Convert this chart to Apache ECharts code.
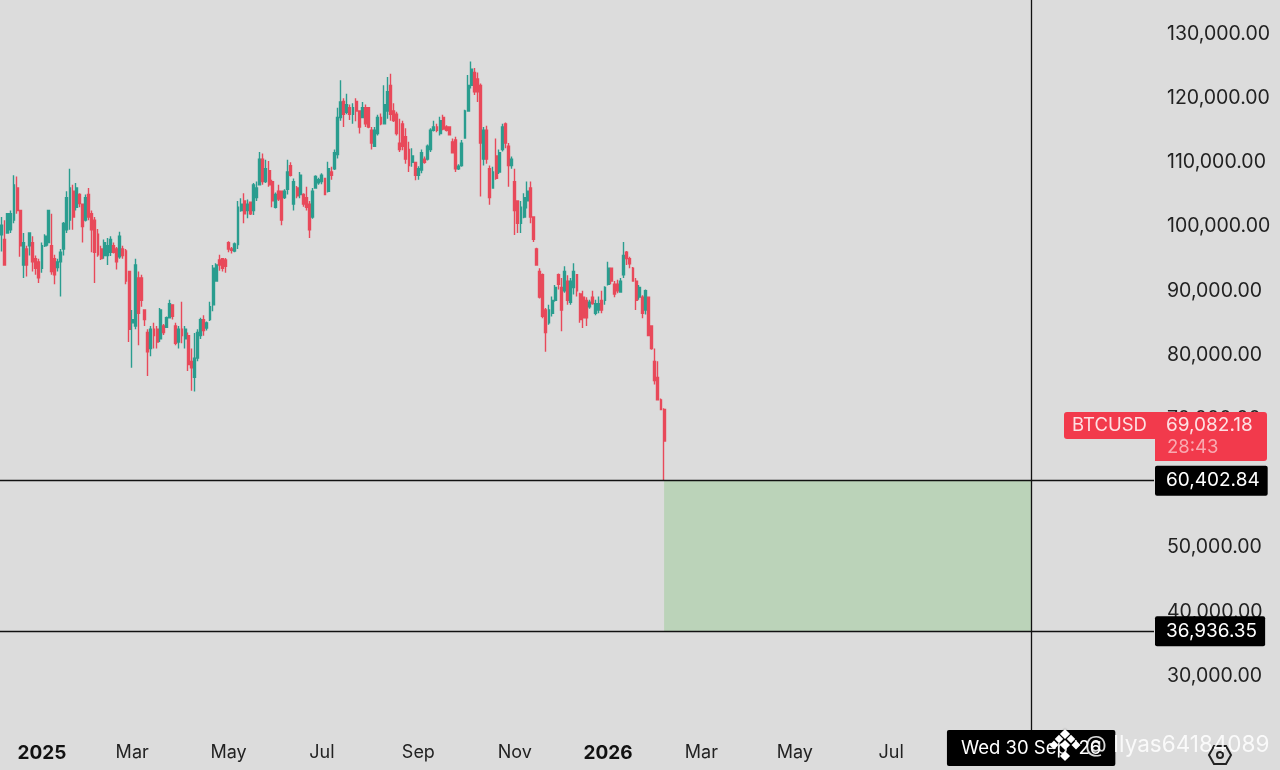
<!DOCTYPE html>
<html>
<head>
<meta charset="utf-8">
<style>html,body{margin:0;padding:0;background:#dcdcdc}#c{width:1280px;height:770px}</style>
<script src="https://cdn.jsdelivr.net/npm/echarts@6/dist/echarts.min.js"></script>
</head>
<body>
<div id="c"></div>
<script>
// Two-day candles, in thousands of USD. First candle: 2024-12-07.
const opens=[98.7,98,99,99.5,101,106,102.5,94,96.5,97,
97.5,95,94.5,93.5,97,97.5,97,95,93.6,94.5,
96.5,99.5,101,105.5,103,105,103.5,101,105,102,
101,98.8,96.5,95.5,95.5,96,97,96.5,95.3,96.5,
96.2,93,85,84.5,92,92,87,83.5,81,84,
84,82.5,84.5,84.3,85.8,87.8,84.5,82,84,
82.5,83,79,76.5,79.5,83,85.5,
84.2,85.5,87.8,91.5,94.8,95,94.8,
97.5,96.5,96.2,97.2,102.5,104,102.5,103.8,102.5,104.5,
106.5,110.5,107,108.7,107,103,105.5,105.5,104.5,105.8,
109.5,103.5,106,105,105,104.5,103.5,101.5,106,106.8,
107,107.5,105.5,108.5,109,111.2,117,119.5,117.8,118.5,
117.5,119.5,118,117,118.5,118.5,115,112.5,114.5,117,
116,118,122,118,117.5,113,116,114,112,110,
110,108,108.8,110.5,110.5,112,115,115.5,114.5,117,
115.5,115.5,113.2,113.5,109,109.5,113.8,118,122,124,
123,122,110.5,115,109,106,111,108.5,112,116,
112.5,109.5,107,104,100.5,101.5,104,106,101.5,96.5,
93,92.5,87,85,86.5,88.5,92.5,90.5,90,91.5,
88.2,90.5,92.5,89.5,89,88.5,87.5,89,86.5,87,
88.5,88.5,91,93.5,91,91,89.8,92.5,96,95,
93.5,91.5,89,89,87,89,84.5,79,76.5,73,71.5];
const closes=[100.2,94,102,102,106.5,102.5,97,97.5,94,99,
94.5,93.5,92,97,98.5,102.5,93,92.5,94.5,96,
100.5,104.5,106,101.5,106,103.6,100,104.5,101.5,99.5,
96,95.6,95,97.5,97,98,96,94.5,98.5,95.5,
91.5,84,85.5,94,86.5,88.5,85.5,80.5,84,83,
82,87,83.5,85.8,88,86,81.8,84,83,
84,78.5,78,79.5,83.5,85.5,83.8,
85,87.5,93.5,94,94,93.5,93.8,
96.5,96.3,97.3,103,103.5,102,103.5,102,106.5,106,
110.5,107,109,106.5,104,105,104.3,101,105.5,108.5,
108,107,104.8,108,103.5,103,99.5,105.5,107.8,107.3,
108,105,109,108,111.5,117,119.4,117.5,119,117.5,
118.5,118,115.5,118.5,116,115.5,113,115,117,116,
119,121,117.5,116.5,114.5,112,112.5,110.5,109.5,111,
108,109,111.5,110,112.5,115,115.5,115,116.5,115.2,
115,114.3,111.5,109,109.4,113,118,122,124.5,121,
121,113,115,110.5,104.5,108.5,107.5,111.5,115.5,113,
109.5,110.5,102.5,100.5,103,104.5,105.5,101.5,98,94,
89,86,83.5,87,88.5,90.5,91,87,93,88.5,
91.5,93,90,85.5,85.8,85.8,88.2,88,88,88,
87,90.5,93.5,91.5,89.5,90,91.5,95.5,95,94.2,
91.5,88.5,90.5,86.5,90,83,81,76,73,71.5,66.6];
const lows=[96.1,94,99,99,100.5,102,95.3,92,92.2,95.5,
93,92.5,91.2,92.8,96.8,97,92.5,91,93,89.1,
95.5,99,99.5,99.5,102.5,103,97.5,100.8,101,96,
91.2,95.3,94.8,95,94,95.4,95.8,93.3,95,95,
91,82,78,84,81.5,87.5,84.5,76.7,79.8,81,
81,82,83.1,84.2,85.8,85.5,81.5,81,81.8,
81,77.5,74.4,74.3,79,82.5,83,
83.8,85.3,86.8,91.4,93.1,93,92.8,
96,95.8,96,96.5,102.3,100.5,101.3,101.8,101.8,104,
106.5,106.5,106.8,106.2,103,102.8,104,100.2,104.3,105,
107.8,102.5,104.4,104.4,103.1,102.5,98.2,101.2,105.9,106.5,
106.6,104.9,105.3,107.3,108.8,110.6,116.5,115.5,117.5,116.6,
116,116.4,114.5,117,115.5,115.3,112,112.4,114.2,115.8,
116,116.8,116.5,116.3,114.2,111.6,111.9,109.8,108.5,109.3,
107.2,107.3,108.3,109.8,110.3,111.6,114.8,114.7,114.2,115,
114.8,114.2,111.4,108.5,108.8,109.3,113.7,118,121.5,120.5,
119.4,104.7,109.5,109.8,103.4,106,107.3,108.2,111.7,112.2,
106.2,109,98.7,99,99,101.3,102.8,100.5,97.6,94,
88.8,85.7,80.5,84.7,86,88.3,90.2,83.7,89.7,87.8,
87.8,89.4,89.1,85,84.2,84.5,87.2,87.8,86.2,86.5,
86.5,87.8,90.8,91,89,89.6,89.7,92,94,93.5,
91.5,87,88.6,85.7,86.3,83,80.8,75.4,73,71.5,60.4];
const highs=[101.5,101,102.1,102.5,108,107.8,102.5,99,97,99,
98.5,95.5,95,97.5,98.8,102.5,102,95.6,95,96.5,
100.7,105.5,109,106.5,106.8,105.2,103.6,105,106,102.5,
101.5,99.6,97,98,98.2,98.5,97.5,96.8,99.2,97,
96.5,93,87,95,93,92.5,87,84,84.5,85,
84.5,87.3,84.8,86,88.6,87.8,85,84.5,88.3,
84.5,83.5,81,83.4,84,85.8,86.2,
85.2,88.3,94,94.3,95.6,95.1,95.1,
97.7,96.8,97.5,104,104.4,105.2,104.2,103.9,106.8,107,
111.6,111.4,110.4,110.2,107.3,105.3,106.5,105.5,105.8,110.4,
110,107.5,106.3,108.5,105.2,106.2,104,106,108,107.6,
108.3,107.6,110.1,109.3,112,118.5,122.8,120,120.7,119,
119.2,120,118.1,119.4,119,118.6,115.5,115.5,117.4,117.6,
122,123.3,123.8,119.2,117.9,116.8,116.5,115.3,113.2,112.2,
110,109.4,112,110.9,112.8,115.3,116.5,116,117.1,117.4,
115.8,115.6,113.7,114,109.7,113.5,118.2,123.6,125.7,124.7,
124,122.3,115.5,115.7,109.5,109.3,113.7,112,116,116.2,
113,110.9,109,104.1,104,105.2,107,107,101.5,96.7,
93.5,92.7,87.3,87.8,89.1,90.9,92.7,92,93.8,92.4,
92,94.3,92.5,89.7,90,89,88.6,90,88.6,89.1,
90,90.7,94.5,93.5,91.5,91.7,92,97.6,96.2,95.3,
93.7,92,90.9,89.3,90.2,89.1,84.6,81,79,73.2,71.7];

const priceTicks=[30000,40000,50000,60000,70000,80000,90000,100000,110000,120000,130000];
const monthLabels={'2025-01':'2025','2025-03':'Mar','2025-05':'May','2025-07':'Jul','2025-09':'Sep','2025-11':'Nov','2026-01':'2026','2026-03':'Mar','2026-05':'May','2026-07':'Jul'};
const levelHigh=60402.84, levelLow=36936.35;
const boxStart='2026-02-06', boxEnd='2026-09-30';
const currentPrice='69,082.18', countdown='28:43', symbolName='BTCUSD', cursorLabel="Wed 30 Sep '26", watermark='@ Ilyas64184089';

const dates=[];
for(let k=0;k<371;k++){dates.push(new Date(Date.UTC(2024,11,7+2*k)).toISOString().slice(0,10));}
const candles=opens.map((o,i)=>[o*1000,closes[i]*1000,lows[i]*1000,highs[i]*1000]);
const seen={};
const labelAt={};
dates.forEach((d,i)=>{const m=d.slice(0,7);if(monthLabels[m]&&!seen[m]){seen[m]=1;labelAt[i]=monthLabels[m];}});

const FONT='Inter';
const fmt=v=>v.toLocaleString('en-US',{minimumFractionDigits:2,maximumFractionDigits:2});
const blackTag={show:true,position:'end',distance:1,color:'#fff',backgroundColor:'#000',fontFamily:FONT,fontSize:19,padding:[6,8,5,11],borderRadius:2};

const chart=echarts.init(document.getElementById('c'),null,{renderer:'canvas'});
chart.setOption({
  animation:false,
  backgroundColor:'#dcdcdc',
  grid:{left:0,right:126,top:0,bottom:40},
  xAxis:{type:'category',data:dates,boundaryGap:true,
    axisLine:{show:false},axisTick:{show:false},splitLine:{show:false},
    axisLabel:{margin:14,fontFamily:FONT,fontSize:18,color:'#222',
      interval:(i)=>labelAt[i]!==undefined,
      formatter:(v,i)=>{const t=labelAt[i];return t?(/^\d/.test(t)?'{b|'+t+'}':t):'';},
      rich:{b:{fontFamily:FONT,fontSize:19,fontWeight:700,color:'#111'}}}},
  yAxis:{type:'value',position:'right',min:21563,max:135297,
    axisLine:{show:false},axisTick:{show:false},splitLine:{show:false},
    axisLabel:{customValues:priceTicks,margin:13,align:'left',fontFamily:FONT,fontSize:19.5,color:'#222',formatter:fmt}},
  series:[{type:'candlestick',data:candles,barWidth:2.4,
    itemStyle:{color:'#2a9d8f',color0:'#e8495a',borderColor:'#2a9d8f',borderColor0:'#e8495a',borderWidth:1.4},
    silent:true,
    markArea:{silent:true,itemStyle:{color:'#bbd3b9'},
      data:[[{xAxis:boxStart,yAxis:levelHigh},{xAxis:boxEnd,yAxis:levelLow}]]},
    markLine:{silent:true,symbol:['none','none'],animation:false,
      lineStyle:{color:'#111',width:1.3,type:'solid'},
      data:[
        {yAxis:levelHigh,label:Object.assign({},blackTag,{formatter:fmt(levelHigh)})},
        {yAxis:levelLow,label:Object.assign({},blackTag,{formatter:fmt(levelLow)})},
        {xAxis:boxEnd,label:{show:true,position:'start',distance:0,color:'#fff',backgroundColor:'#000',fontFamily:FONT,fontSize:18.5,padding:[9,14,8,14],borderRadius:2,formatter:cursorLabel}}
      ]}
  }],
  graphic:[
    {type:'rect',z:50,shape:{x:1064,y:412,width:91,height:27,r:[3,0,0,3]},style:{fill:'#f23a4c'}},
    {type:'text',z:51,x:1072,y:425.5,style:{text:symbolName,fontFamily:FONT,fontSize:18.5,fill:'#fde0e3',verticalAlign:'middle'}},
    {type:'rect',z:50,shape:{x:1155,y:412,width:112,height:49,r:[0,3,3,0]},style:{fill:'#f23a4c'}},
    {type:'text',z:51,x:1166,y:425,style:{text:currentPrice,fontFamily:FONT,fontSize:19,fill:'#fde0e3',verticalAlign:'middle'}},
    {type:'text',z:51,x:1167,y:447,style:{text:countdown,fontFamily:FONT,fontSize:18.5,fill:'#f9a9b1',verticalAlign:'middle'}},
    {type:'text',z:60,x:1085,y:745,style:{text:watermark,fontFamily:FONT,fontSize:22.5,fill:'rgba(255,255,255,0.85)',verticalAlign:'middle',shadowColor:'rgba(0,0,0,0.45)',shadowBlur:2,shadowOffsetX:1,shadowOffsetY:1}},
    {type:'polygon',z:55,shape:{points:[[1209,755],[1214,746],[1226,746],[1231,755],[1226,764],[1214,764]]},style:{fill:'none',stroke:'#222',lineWidth:2}},
    {type:'circle',z:55,shape:{cx:1220,cy:755,r:3},style:{fill:'none',stroke:'#222',lineWidth:2}},
    {type:'group',z:60,x:1065,y:745,children:[[0,-11,3.6],[0,0,3.6],[0,11,3.6],[-11,0,3.2],[11,0,3.2],[-6,-6,3],[6,-6,3]].map(p=>({
      type:'rect',z:60,x:p[0],y:p[1],rotation:Math.PI/4,shape:{x:-p[2],y:-p[2],width:2*p[2],height:2*p[2]},
      style:{fill:'#fff',shadowColor:'rgba(0,0,0,0.5)',shadowBlur:2}}))}
  ]
});
</script>
</body>
</html>
